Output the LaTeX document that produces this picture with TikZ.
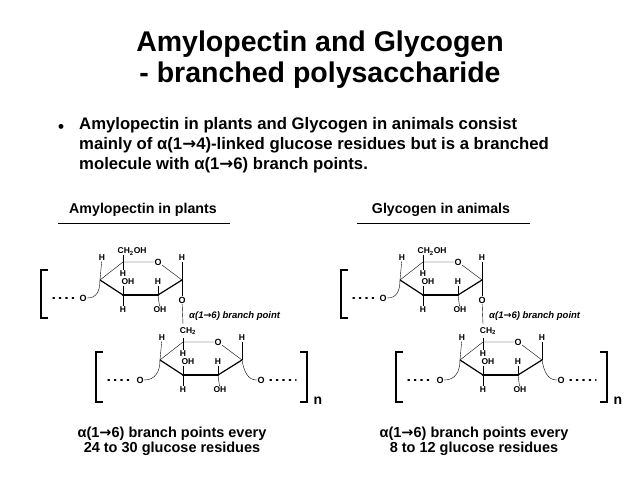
\documentclass[tikz,border=0pt]{standalone}
\usepackage{fontspec}
\setmainfont{Liberation Sans}
\newfontfamily\arrfont{DejaVu Sans}
\newcommand\ar{{\arrfont\bfseries →}}
\newcommand\glcring[3]{% prefix, x, y
  \begin{scope}[shift={(#2,#3)}]
    \coordinate (#1c4) at (0,0); \coordinate (#1c5) at (23,-18);
    \coordinate (#1c1) at (82,0); \coordinate (#1c2) at (58,15); \coordinate (#1c3) at (23,15);
    \node[ringo] (#1o) at (58,-18) {O};
    \draw[thin] (#1c4)--(#1c5)--(#1o)--(#1c1);
    \draw[line width=1.2pt] (#1c1)--(#1c2);
    \draw[line width=2.2pt,line cap=round] (#1c2)--(#1c3);
    \draw[line width=1.2pt] (#1c3)--(#1c4);
    \node[lab] (#1h4) at (2,-22) {H}; \draw (#1c4)--(#1h4);
    \node[lab] (#1h1) at (82,-22) {H}; \draw (#1c1)--(#1h1);
    \node[lab] (#1h5) at (23,-6) {H}; \draw (#1c5)--(#1h5);
    \node[lab] (#1oh3) at (28,2) {OH}; \draw (#1c3)--(23,6);
    \node[lab] (#1h2) at (58,2) {H}; \draw (#1c2)--(#1h2);
    \node[lab] (#1h3) at (23,30) {H}; \draw (#1c3)--(#1h3);
    \node[lab] (#1oh2) at (60,30) {OH}; \draw (#1c2)--(#1oh2);
  \end{scope}}
\newcommand\glcunit[2]{% prefix, xshift
  \glcring{#1t}{100+#2}{280}
  \begin{scope}[xshift=#2]
    \node[lab,anchor=south west] (#1ch2oh) at (117,256) {CH\textsubscript{2}OH};
    \draw (#1tc5)--(123,255);
    \node[ringo] (#1ol) at (83,298) {O};
    \draw (#1ol.east) .. controls (96,298) and (100,292) .. (#1tc4);
    \draw[dots] (53,298)--(76,298);
    \draw[brk] (48,270)--(41,270)--(41,318)--(48,318);
    \node[ringo] (#1ob) at (182,300) {O};
    \draw (#1tc1)--(#1ob);
    \node[lab] (#1ch2) at (188,331) {CH\textsubscript{2}};
    \draw (#1ob)--(183,324);
    \node[font=\fontsize{9.5}{10}\selectfont\bfseries\itshape,anchor=west,inner sep=0] (#1bp) at (189,316) {α(1\ar6) branch point};
  \end{scope}
  \glcring{#1b}{160+#2}{360}
  \begin{scope}[xshift=#2]
    \draw (183,338)--(#1bc5);
    \node[ringo] (#1ol2) at (140,380) {O};
    \draw (#1ol2.east) .. controls (155,380) and (160,372) .. (#1bc4);
    \draw[dots] (108,380)--(132,380);
    \node[ringo] (#1or2) at (261,380) {O};
    \draw (#1bc1) .. controls (244,372) and (248,380) .. (#1or2.west);
    \draw[dots] (270,380)--(296,380);
    \draw[brk] (103,352)--(96,352)--(96,402)--(103,402);
    \draw[brk] (300,352)--(307,352)--(307,402)--(300,402);
    \node[font=\fontsize{14}{14}\selectfont\bfseries] (#1n) at (318,401) {n};
  \end{scope}}
\begin{document}
\begin{tikzpicture}[x=1pt,y=-1pt,
  lab/.style={font=\fontsize{8.5}{9}\selectfont\bfseries,inner sep=0.5pt},
  ringo/.style={font=\fontsize{9}{9}\selectfont\bfseries,fill=white,inner sep=0.5pt},
  dots/.style={line width=1.4pt,dash pattern=on 1.4pt off 5pt,line cap=round},
  brk/.style={line width=2.6pt}
]
\useasboundingbox[fill=white] (0,0) rectangle (638,479);
\node[font=\fontsize{28.5}{30}\selectfont\bfseries] (t1) at (320,44) {Amylopectin and Glycogen};
\node[font=\fontsize{28.5}{30}\selectfont\bfseries] (t2) at (320,75) {- branched polysaccharide};
\node[font=\fontsize{17}{17}\selectfont\bfseries] (bul) at (61,128) {•};
\node[font=\fontsize{16.7}{20}\selectfont\bfseries,anchor=north west,align=left,inner sep=0] (body) at (79,117)
 {Amylopectin in plants and Glycogen in animals consist\\
  mainly of α(1\ar4)-linked glucose residues but is a branched\\
  molecule with α(1\ar6) branch points.};
\node[font=\fontsize{14.2}{15}\selectfont\bfseries] (h1) at (143,210) {Amylopectin in plants};
\draw (58,223)--(230,223);
\node[font=\fontsize{14.2}{15}\selectfont\bfseries] (h2) at (441,210) {Glycogen in animals};
\draw (357,223)--(530,223);
\glcunit{A}{0}
\glcunit{B}{300}
\node[font=\fontsize{14.5}{15}\selectfont\bfseries,align=center] (f1) at (172,441) {α(1\ar6) branch points every\\24 to 30 glucose residues};
\node[font=\fontsize{14.5}{15}\selectfont\bfseries,align=center] (f2) at (474,441) {α(1\ar6) branch points every\\8 to 12 glucose residues};
\end{tikzpicture}
\end{document}
